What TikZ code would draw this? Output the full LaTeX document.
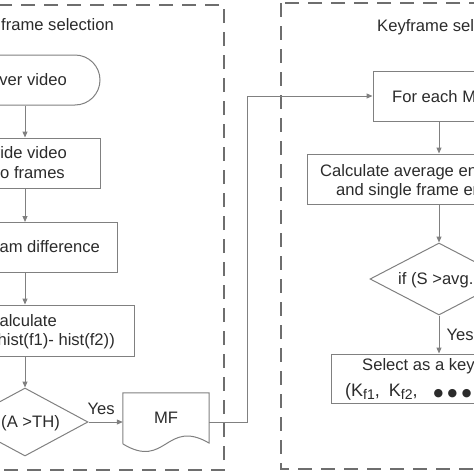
\documentclass[tikz,border=0pt]{standalone}
\usepackage{fontspec}
\setmainfont{Liberation Sans}
\newfontfamily\dotfont{DejaVu Sans}
\usetikzlibrary{shapes.geometric,shapes.misc,arrows.meta}
\definecolor{linegray}{HTML}{808080}
\definecolor{dashgray}{HTML}{6E6E6E}
\definecolor{inkgray}{HTML}{2B2B2B}
\newcommand{\bigdot}{{\dotfont\fontsize{11}{20}\selectfont ●}}
\newcommand{\subf}[1]{\raisebox{-3pt}{\fontsize{14}{14}\selectfont #1}}
\begin{document}
\begin{tikzpicture}[x=1pt,y=-1pt,
  every node/.style={font=\fontsize{16.6}{20}\selectfont, text=inkgray},
  box/.style={draw=linegray, line width=1pt, minimum height=50pt, inner sep=0pt},
  dia/.style={draw=linegray, line width=1pt, diamond, inner sep=0pt},
  txt/.style={inner sep=0pt, text height=11.8pt, text depth=0pt},
  title/.style={txt, font=\fontsize{16.6}{20}\selectfont},
  arr/.style={draw=linegray, line width=1pt, -{Triangle[length=6pt,width=5pt]}},
  groupbox/.style={draw=dashgray, line width=1.4pt, dash pattern=on 14pt off 9pt}]
\useasboundingbox (0,0) rectangle (474,474);
\clip (0,0) rectangle (474,474);

% dashed groups
\draw[groupbox] (-60,5) rectangle (224,470);
\draw[groupbox] (281,3) rectangle (560,469);

% left group
\node[title, anchor=west] (lefttitle) at (1,25) {frame selection};
\node[box, rounded rectangle, minimum width=150pt] (cover) at (25,80) {};
\node[box, minimum width=150pt] (divide) at (25,163) {};
\node[box, minimum width=184pt] (histo) at (25,247.5) {};
\node[box, minimum width=218pt, minimum height=51pt] (absdiff) at (25,330.5) {};
\node[dia, minimum width=126pt, minimum height=68pt] (thr) at (25,422) {};
\node[minimum width=86pt, minimum height=58pt, inner sep=0pt] (mf) at (166,422) {};
\draw[linegray, line width=1pt] (mf.north west) -- (mf.north east) -- (209,443)
  .. controls (166,418) and (166,470) .. (123,444) -- cycle;

\node[txt, anchor=east] (cover-t) at (67,80) {ver video};
\node[txt, anchor=east] (divide-a) at (67,153) {vide video};
\node[txt, anchor=east] (divide-b) at (65,173) {o frames};
\node[txt, anchor=east] (histo-t) at (100,247) {am difference};
\node[txt, anchor=east] (absdiff-a) at (57,321) {alculate};
\node[txt, anchor=east] (absdiff-b) at (115,340) {hist(f1)- hist(f2))};
\node[txt, anchor=east] (thr-t) at (60,422) {(A >TH)};
\node[txt] (mf-t) at (166,418) {MF};

\draw[arr] (cover) -- (divide);
\draw[arr] (divide) -- (histo);
\draw[arr] (histo) -- (absdiff);
\draw[arr] (absdiff) -- (thr);
\draw[arr] (thr.east) -- node[txt, pos=0.37, above=7pt] (yes-a) {Yes} (mf.west);

% right group
\node[title, anchor=west] (righttitle) at (377,26) {Keyframe sel};
\node[box, minimum width=132pt] (each) at (439,96) {};
\node[box, minimum width=264pt] (energy) at (439,179) {};
\node[dia, minimum width=138pt, minimum height=72pt] (cmp) at (439,279) {};
\node[box, minimum width=216pt, minimum height=49pt] (pick) at (439,378.5) {};

\node[txt, anchor=west] (each-t) at (392,97) {For each M};
\node[txt, anchor=west] (energy-a) at (320,171) {Calculate average en};
\node[txt, anchor=west] (energy-b) at (336,190) {and single frame en};
\node[txt, anchor=west] (cmp-t) at (398,279) {if (S >avg.};
\node[txt, anchor=west] (pick-a) at (362,365) {Select as a key};
\node[txt, anchor=west, text height=13pt, font=\fontsize{18}{20}\selectfont] (pick-b) at (345,390)
  {(K\subf{f1},\hspace{9pt}K\subf{f2},\hspace{16pt}\bigdot\hspace{4.5pt}\bigdot\hspace{4.5pt}\bigdot};

\draw[arr] (mf.east) -- ++(38,0) |- (each.west);
\draw[arr] (each) -- (energy);
\draw[arr] (energy) -- (cmp);
\draw[arr] (cmp) -- node[txt, right=7pt] (yes-b) {Yes} (pick);
\end{tikzpicture}
\end{document}
